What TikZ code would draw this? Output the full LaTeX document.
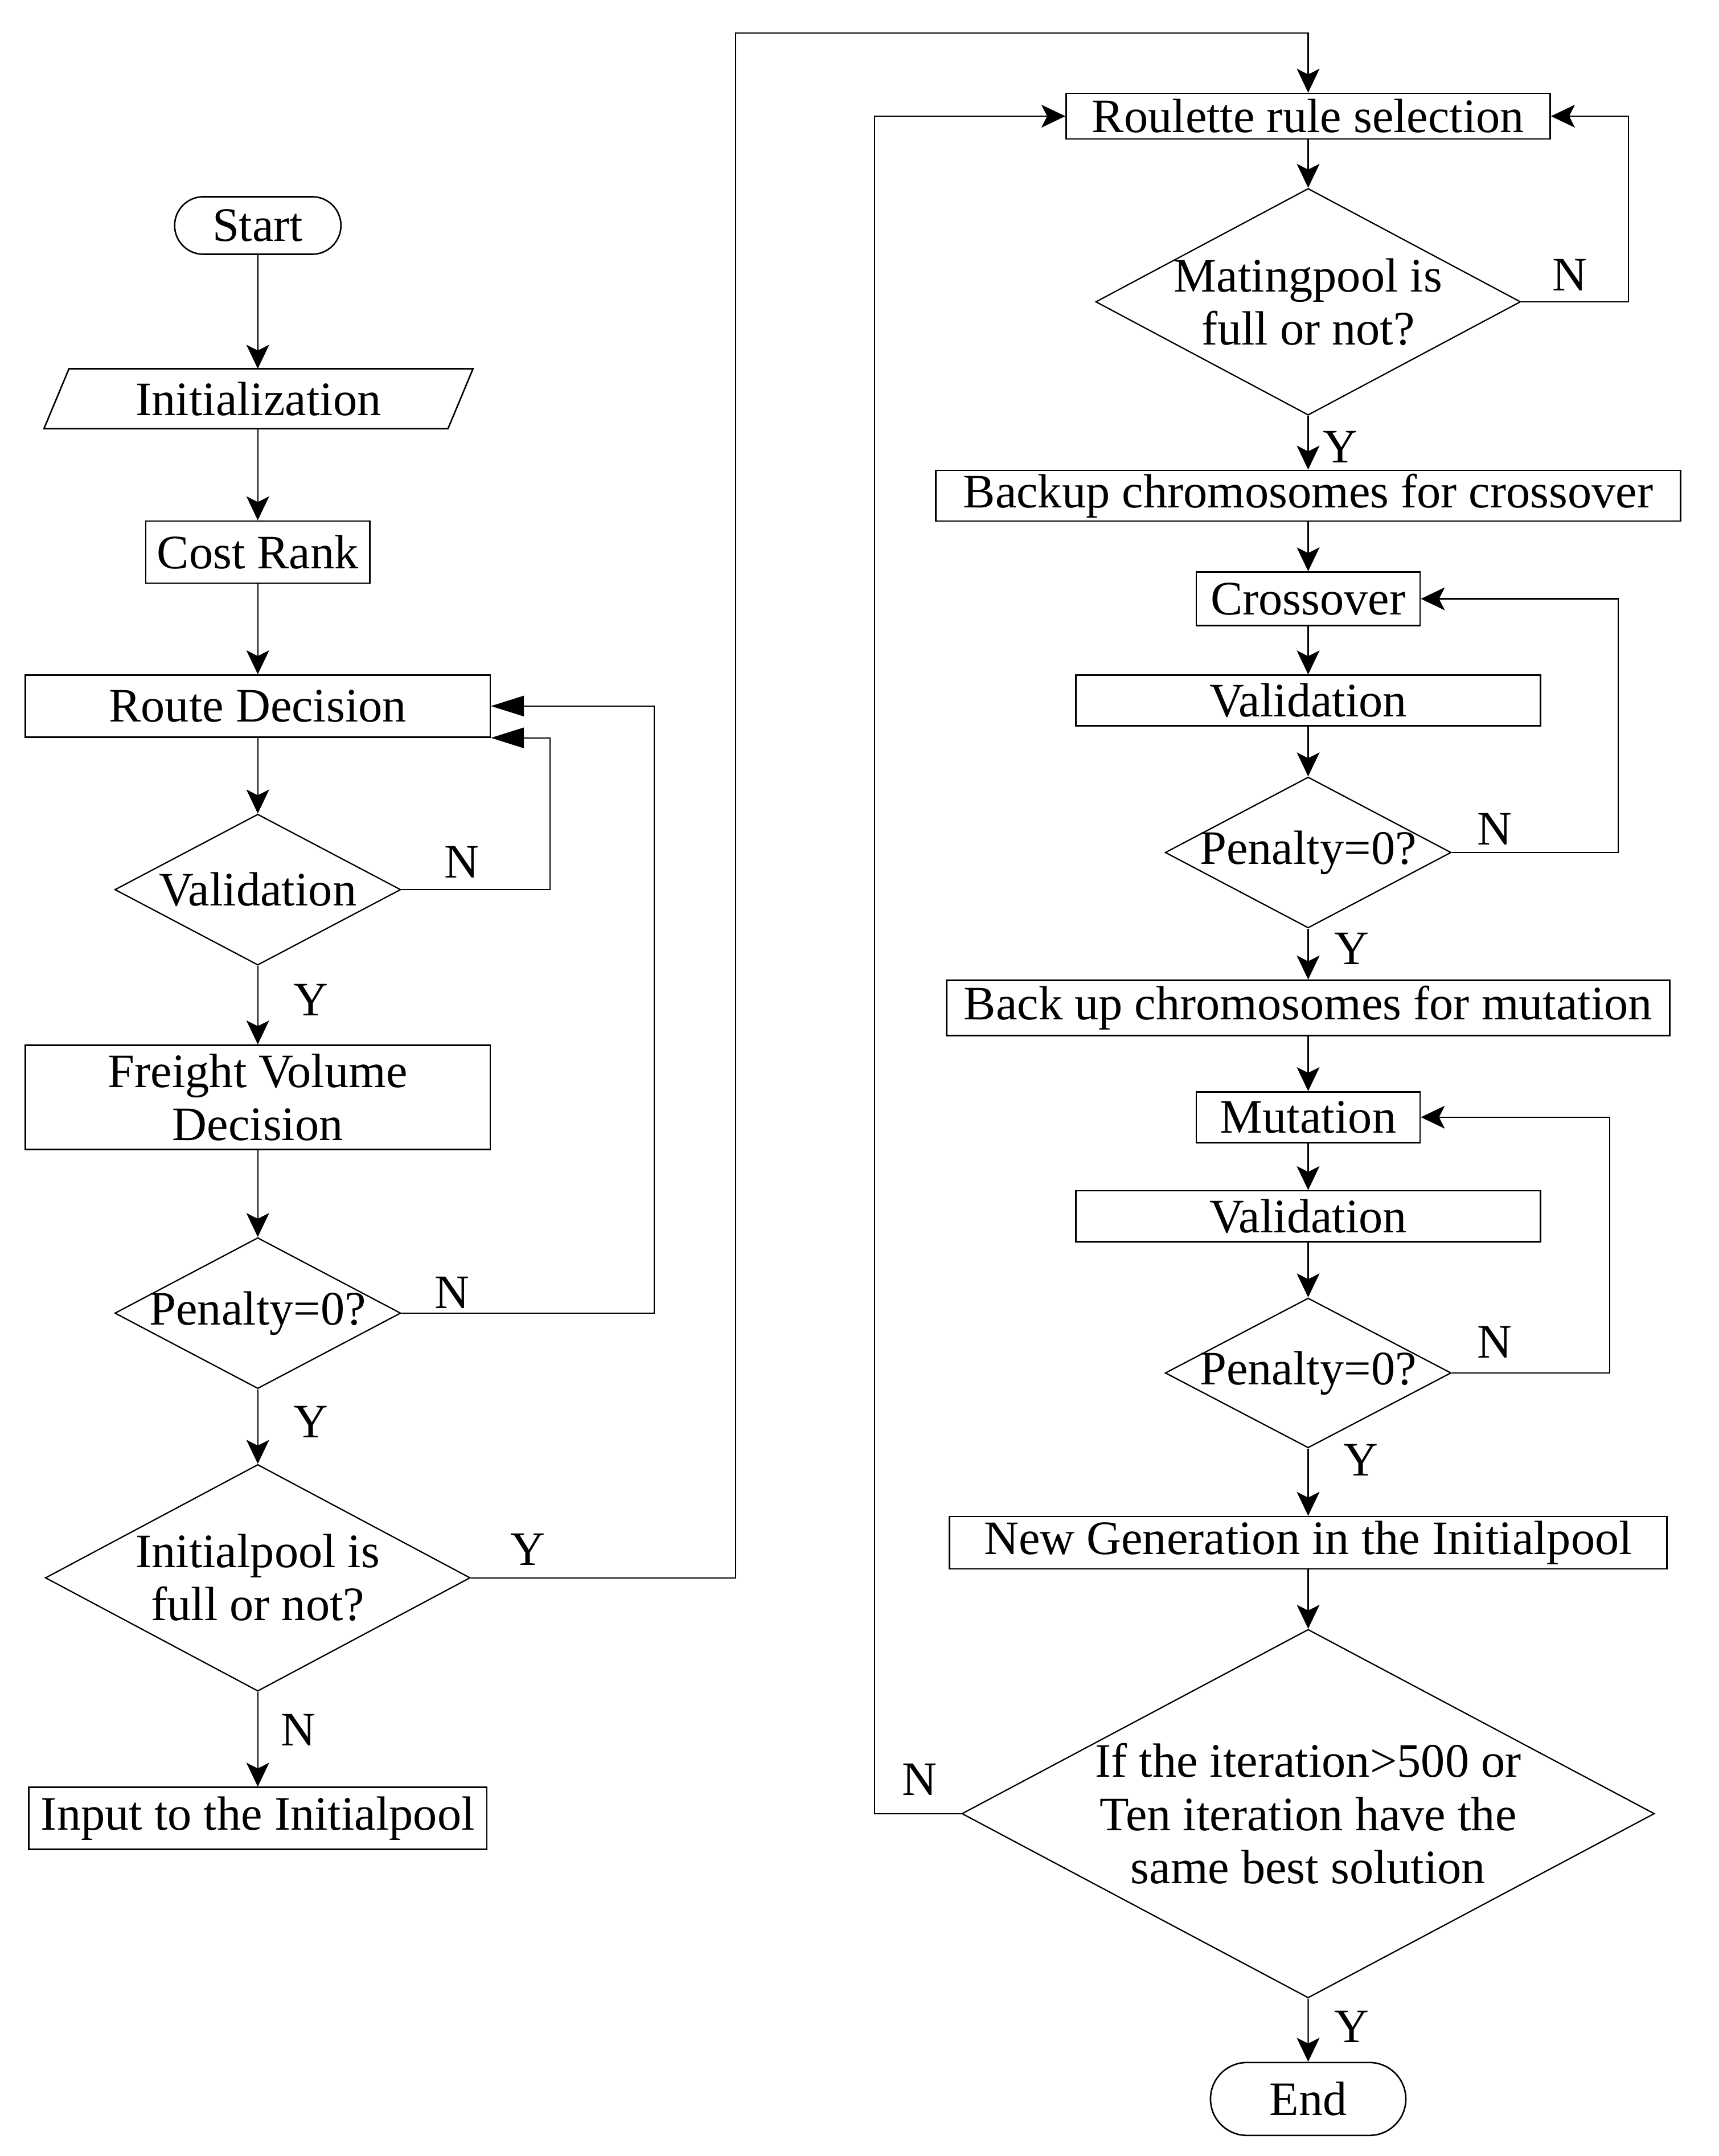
\documentclass[tikz,border=0pt]{standalone}
\usepackage{fontspec}
\setmainfont{Liberation Serif}
\usetikzlibrary{arrows.meta,shapes.geometric,shapes.misc}
\begin{document}
\begin{tikzpicture}[x=0.024136cm,y=-0.024136cm,
  font=\fontsize{24}{26.5}\selectfont,
  box/.style={rectangle,draw,line width=0.75pt,inner sep=0pt},
  terminal/.style={rounded rectangle,draw,line width=0.75pt,inner sep=0pt},
  io/.style={rectangle,inner sep=0pt},
  decision/.style={diamond,aspect=1.9,draw,line width=0.65pt,inner xsep=-1.2cm,inner ysep=-0.4cm},
  flow/.style={-{Stealth[length=0.42cm,width=0.40cm,inset=0.1cm]},line width=0.6pt},
  back/.style={-{Triangle[length=0.58cm,width=0.36cm]},line width=0.6pt}]
\useasboundingbox (0,0) rectangle (1250,1568);
% left column
\node[terminal,minimum width=2.92cm,minimum height=1.01cm] (start) at (187.5,164) {Start};
\node[io,minimum width=7.08cm,minimum height=1.04cm] (init) at (188,290) {Initialization};
\draw[line width=0.75pt] ([xshift=-0.22cm]init.south west) -- ([xshift=0.22cm]init.north west)
  -- ([xshift=0.22cm]init.north east) -- ([xshift=-0.22cm]init.south east) -- cycle;
\node[box,minimum width=3.93cm,minimum height=1.09cm] (cost) at (187.5,401.5) {Cost Rank};
\node[box,minimum width=8.16cm,minimum height=1.09cm] (route) at (187.5,513.5) {Route Decision};
\node[decision,minimum width=5.02cm,minimum height=2.65cm] (valid) at (187.5,647) {Validation};
\node[box,minimum width=8.16cm,minimum height=1.83cm,align=center] (freight) at (187.5,798) {Freight Volume\\Decision};
\node[decision,minimum width=5.02cm,minimum height=2.65cm] (penalty) at (187.5,955) {Penalty=0?};
\node[decision,minimum width=7.46cm,minimum height=3.98cm,align=center] (initfull) at (187.5,1147.5) {Initialpool is\\full or not?};
\node[box,minimum width=8.04cm,minimum height=1.09cm] (input) at (187.5,1322.5) {Input to the Initialpool};
% right column
\node[box,minimum width=8.50cm,minimum height=0.80cm] (roulette) at (951.5,84.5) {Roulette rule selection};
\node[decision,minimum width=7.46cm,minimum height=3.98cm,align=center] (matefull) at (951.5,219.5) {Matingpool is\\full or not?};
\node[box,minimum width=13.08cm,minimum height=0.89cm] (backcross) at (951.5,360.5) {Backup chromosomes for crossover};
\node[box,minimum width=3.93cm,minimum height=0.94cm] (cross) at (951.5,435.5) {Crossover};
\node[box,minimum width=8.16cm,minimum height=0.89cm] (validcross) at (951.5,509.5) {Validation};
\node[decision,minimum width=5.02cm,minimum height=2.65cm] (penaltycross) at (951.5,620) {Penalty=0?};
\node[box,minimum width=12.70cm,minimum height=0.97cm] (backmut) at (951.5,733) {Back up chromosomes for mutation};
\node[box,minimum width=3.93cm,minimum height=0.89cm] (mut) at (951.5,812.5) {Mutation};
\node[box,minimum width=8.16cm,minimum height=0.89cm] (validmut) at (951.5,884.5) {Validation};
\node[decision,minimum width=5.02cm,minimum height=2.63cm] (penaltymut) at (951.5,998.5) {Penalty=0?};
\node[box,minimum width=12.60cm,minimum height=0.92cm] (newgen) at (951.5,1122) {New Generation in the Initialpool};
\node[decision,minimum width=12.16cm,minimum height=6.47cm,align=center] (stop) at (951.5,1319) {If the iteration>500 or\\Ten iteration have the\\same best solution};
\node[terminal,minimum width=3.43cm,minimum height=1.28cm] (end) at (951.5,1526.5) {End};
% yes / no labels
\node (validN) at (336,627) {N};
\node (validY) at (226,727) {Y};
\node (penaltyN) at (329,940) {N};
\node (penaltyY) at (226,1034) {Y};
\node (initfullY) at (384,1127) {Y};
\node (initfullN) at (217,1258) {N};
\node (matefullN) at (1142,200) {N};
\node (matefullY) at (975,325) {Y};
\node (penaltycrossN) at (1087,603) {N};
\node (penaltycrossY) at (983,690) {Y};
\node (penaltymutN) at (1087,976) {N};
\node (penaltymutY) at (990,1062) {Y};
\node (stopN) at (669,1294) {N};
\node (stopY) at (983,1474) {Y};
% connectors
\draw[flow] (start) -- (init.north -| start);
\draw[flow] (init.south -| cost) -- (cost);
\draw[flow] (cost) -- (route);
\draw[flow] (route) -- (valid);
\draw[back] (valid.east) -- ++(108,0) |- (route.south east);
\draw[flow] (valid) -- (freight);
\draw[flow] (freight) -- (penalty);
\draw[back] (penalty.east) -- ++(184,0) |- (route.east);
\draw[flow] (penalty) -- (initfull);
\draw[flow] (initfull) -- (input);
\draw[flow] (initfull.east) -| (535,24) -| (roulette.north);
\draw[flow] (roulette) -- (matefull);
\draw[flow] (matefull.east) -- ++(78,0) |- (roulette.east);
\draw[flow] (matefull) -- (backcross);
\draw[flow] (backcross) -- (cross);
\draw[flow] (cross) -- (validcross);
\draw[flow] (validcross) -- (penaltycross);
\draw[flow] (penaltycross.east) -- ++(121,0) |- (cross.east);
\draw[flow] (penaltycross) -- (backmut);
\draw[flow] (backmut) -- (mut);
\draw[flow] (mut) -- (validmut);
\draw[flow] (validmut) -- (penaltymut);
\draw[flow] (penaltymut.east) -- ++(115,0) |- (mut.east);
\draw[flow] (penaltymut) -- (newgen);
\draw[flow] (newgen) -- (stop);
\draw[flow] (stop.west) -- ++(-63,0) |- (roulette.west);
\draw[flow] (stop) -- (end);
\end{tikzpicture}
\end{document}
